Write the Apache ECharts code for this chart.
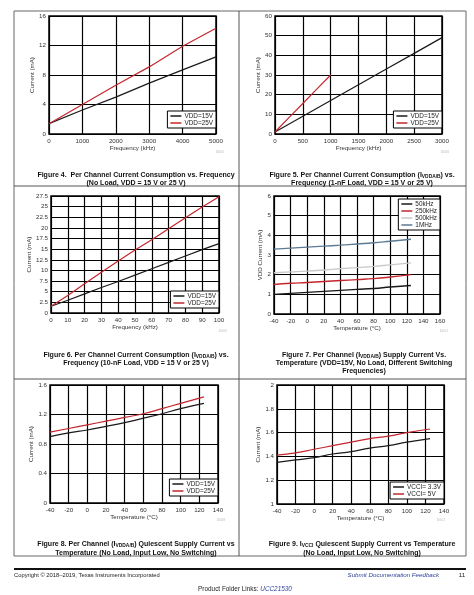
<!DOCTYPE html>
<html><head><meta charset="utf-8">
<script src="https://cdn.jsdelivr.net/npm/echarts@6/dist/echarts.min.js"></script>
<style>html,body{margin:0;padding:0;background:#fff}#c{width:474px;height:595px}</style>
</head><body><div id="c"></div>
<script>
// ---- data ----
const fig4Freq = [0, 1000, 2000, 3000, 4000, 5000];
const fig4Vdd15 = [1.4, 3.25, 5.0, 6.9, 8.7, 10.45];
const fig4Vdd25 = [1.4, 4.0, 6.6, 9.1, 11.9, 14.35];

const fig5Freq15 = [0, 500, 1000, 1500, 2000, 2500, 3000];
const fig5Vdd15 = [1, 9, 17, 25, 33, 41, 49];
const fig5Freq25 = [0, 250, 500, 750, 1000];
const fig5Vdd25 = [1, 8.3, 15.5, 22.8, 30];

const fig6Freq = [0, 10, 20, 30, 40, 50, 60, 70, 80, 90, 100];
const fig6Vdd15 = [1.6, 3.0, 4.5, 6.0, 7.4, 8.9, 10.4, 11.9, 13.4, 14.9, 16.3];
const fig6Vdd25 = [1.6, 4.1, 6.9, 9.6, 12.2, 14.8, 17.2, 19.8, 22.4, 24.9, 27.3];

const fig7Temp = [-40, -20, 0, 20, 40, 60, 80, 100, 125];
const fig7f50k = [1.0, 1.05, 1.1, 1.15, 1.2, 1.25, 1.3, 1.37, 1.45];
const fig7f250k = [1.5, 1.56, 1.6, 1.65, 1.7, 1.75, 1.8, 1.88, 2.0];
const fig7f500k = [2.1, 2.14, 2.18, 2.24, 2.3, 2.36, 2.42, 2.5, 2.6];
const fig7f1M = [3.3, 3.35, 3.4, 3.45, 3.5, 3.56, 3.62, 3.7, 3.8];

const fig8Temp = [-40, -20, 0, 20, 40, 60, 80, 100, 125];
const fig8Vdd15 = [0.9, 0.95, 0.99, 1.04, 1.09, 1.15, 1.21, 1.28, 1.35];
const fig8Vdd25 = [0.96, 1.01, 1.06, 1.11, 1.16, 1.21, 1.28, 1.35, 1.44];

const fig9Temp = [-40, -20, 0, 20, 40, 60, 80, 100, 125];
const fig9Vcci33 = [1.35, 1.37, 1.39, 1.42, 1.44, 1.47, 1.49, 1.52, 1.55];
const fig9Vcci5 = [1.41, 1.43, 1.46, 1.49, 1.52, 1.55, 1.57, 1.60, 1.63];

// ---- styling ----
const FONT = 'Liberation Sans';
const BLACK = '#1a1a1a', RED = '#c4262e', LGRAY = '#c9c9c9', BLUEG = '#5c7b94';
const zip = (xs, ys) => xs.map((x, i) => [x, ys[i]]);
const plain = v => String(v);

const grids = [
  {left: 49, top: 16, width: 167, height: 118},
  {left: 275, top: 16, width: 167, height: 118},
  {left: 51, top: 196, width: 168, height: 117},
  {left: 274, top: 196, width: 166, height: 118},
  {left: 50, top: 385, width: 168, height: 118},
  {left: 277, top: 385, width: 167, height: 119}
].map(g => Object.assign({show: true, borderColor: '#000', borderWidth: 1.5, containLabel: false}, g));

function xAx(gi, min, max, interval, name) {
  return {type: 'value', gridIndex: gi, min, max, interval, name, nameLocation: 'middle', nameGap: 11,
    nameTextStyle: {fontSize: 6.2, color: '#333', fontFamily: FONT},
    axisLine: {show: false}, axisTick: {show: false},
    axisLabel: {fontSize: 6.2, color: '#333', margin: 4, fontFamily: FONT, formatter: plain},
    splitLine: {show: true, lineStyle: {color: '#000', width: 1.2}}};
}
function yAx(gi, min, max, interval, name, gap) {
  return {type: 'value', gridIndex: gi, min, max, interval, name, nameLocation: 'middle', nameGap: gap, nameRotate: 90,
    nameTextStyle: {fontSize: 6.2, color: '#333', fontFamily: FONT},
    axisLine: {show: false}, axisTick: {show: false},
    axisLabel: {fontSize: 6.2, color: '#333', margin: 3, fontFamily: FONT, formatter: plain},
    splitLine: {show: true, lineStyle: {color: '#000', width: 1.2}}};
}
function ser(gi, name, data, color, w, smooth) {
  return {type: 'line', name, xAxisIndex: gi, yAxisIndex: gi, data, symbol: 'none', smooth: !!smooth,
    lineStyle: {color, width: w || 1.2}, itemStyle: {color}, silent: true};
}
function leg(right, top, names) {
  return {orient: 'vertical', right, top, data: names, selectedMode: false,
    backgroundColor: '#fff', borderColor: '#000', borderWidth: 1, borderRadius: 0,
    padding: [2, 3, 2, 3], itemGap: 1, itemWidth: 11, itemHeight: 1.5, icon: 'rect',
    textStyle: {fontSize: 6.4, color: '#222', fontFamily: FONT, padding: [0, 0, 0, -2]}};
}

const capRich = {
  b: {fontFamily: FONT, fontWeight: 'bold', fontSize: 7, fill: '#111', color: '#111'},
  s: {fontFamily: FONT, fontWeight: 'bold', fontSize: 4.9, fill: '#111', color: '#111', padding: [3, 0, 0, 0]}
};
function cap(x, y, text) {
  return {type: 'text', x, y, silent: true,
    style: {text, align: 'center', verticalAlign: 'middle', rich: capRich, fill: '#111',
      font: 'bold 7px "Liberation Sans"'}};
}
function tiny(x, y, text) {
  return {type: 'text', x, y, silent: true,
    style: {text, align: 'center', verticalAlign: 'middle', fill: '#bbb', font: '3.5px "Liberation Sans"'}};
}
function line(x1, y1, x2, y2, w, c) {
  return {type: 'line', silent: true, shape: {x1, y1, x2, y2}, style: {stroke: c || '#555', lineWidth: w || 1}};
}

const option = {
  animation: false,
  backgroundColor: '#fff',
  grid: grids,
  xAxis: [
    xAx(0, 0, 5000, 1000, 'Frequency (kHz)'),
    xAx(1, 0, 3000, 500, 'Frequency (kHz)'),
    xAx(2, 0, 100, 10, 'Frequency (kHz)'),
    xAx(3, -40, 160, 20, 'Temperature (°C)'),
    xAx(4, -40, 140, 20, 'Temperature (°C)'),
    xAx(5, -40, 140, 20, 'Temperature (°C)')
  ],
  yAxis: [
    yAx(0, 0, 16, 4, 'Current (mA)', 13),
    yAx(1, 0, 60, 10, 'Current (mA)', 12),
    yAx(2, 0, 27.5, 2.5, 'Current (mA)', 17),
    yAx(3, 0, 6, 1, 'VDD Current (mA)', 10),
    yAx(4, 0, 1.6, 0.4, 'Current (mA)', 13),
    yAx(5, 1, 2, 0.2, 'Current (mA)', 14)
  ],
  legend: [
    leg(258, 111, ['VDD=15V', 'VDD=25V']),
    leg(32, 111, ['VDD=15V', 'VDD=25V']),
    leg(255, 291, ['VDD=15V', 'VDD=25V']),
    leg(34, 199, ['50kHz', '250kHz', '500kHz', '1MHz']),
    leg(256, 479, ['VDD=15V', 'VDD=25V']),
    leg(30, 482, ['VCCI= 3.3V', 'VCCI= 5V'])
  ],
  series: [
    ser(0, 'VDD=15V', zip(fig4Freq, fig4Vdd15), BLACK),
    ser(0, 'VDD=25V', zip(fig4Freq, fig4Vdd25), RED),
    ser(1, 'VDD=15V', zip(fig5Freq15, fig5Vdd15), BLACK),
    ser(1, 'VDD=25V', zip(fig5Freq25, fig5Vdd25), RED),
    ser(2, 'VDD=15V', zip(fig6Freq, fig6Vdd15), BLACK),
    ser(2, 'VDD=25V', zip(fig6Freq, fig6Vdd25), RED),
    ser(3, '50kHz', zip(fig7Temp, fig7f50k), BLACK, 1.4, true),
    ser(3, '250kHz', zip(fig7Temp, fig7f250k), RED, 1.4, true),
    ser(3, '500kHz', zip(fig7Temp, fig7f500k), LGRAY, 1.4, true),
    ser(3, '1MHz', zip(fig7Temp, fig7f1M), BLUEG, 1.4, true),
    ser(4, 'VDD=15V', zip(fig8Temp, fig8Vdd15), BLACK, 1.2, true),
    ser(4, 'VDD=25V', zip(fig8Temp, fig8Vdd25), RED, 1.2, true),
    ser(5, 'VCCI= 3.3V', zip(fig9Temp, fig9Vcci33), BLACK, 1.2, true),
    ser(5, 'VCCI= 5V', zip(fig9Temp, fig9Vcci5), RED, 1.2, true)
  ],
  graphic: [
    // page frame
    {type: 'rect', silent: true, shape: {x: 14, y: 11, width: 452, height: 545}, style: {fill: 'none', stroke: '#666', lineWidth: 1}},
    line(239, 11, 239, 556),
    line(14, 186, 466, 186),
    line(14, 379, 466, 379),
    line(14, 569, 466, 569, 2, '#111'),
    // captions
    cap(136, 175, '{b|Figure 4.  Per Channel Current Consumption vs. Frequency}'),
    cap(136, 183, '{b|(No Load, VDD = 15 V or 25 V)}'),
    cap(362, 175, '{b|Figure 5. Per Channel Current Consumption (I}{s|VDDA/B}{b|) vs.}'),
    cap(362, 183, '{b|Frequency (1-nF Load, VDD = 15 V or 25 V)}'),
    cap(136, 355, '{b|Figure 6. Per Channel Current Consumption (I}{s|VDDA/B}{b|) vs.}'),
    cap(136, 363, '{b|Frequency (10-nF Load, VDD = 15 V or 25 V)}'),
    cap(364, 355, '{b|Figure 7. Per Channel (I}{s|VDDA/B}{b|) Supply Current Vs.}'),
    cap(364, 363, '{b|Temperature (VDD=15V, No Load, Different Switching}'),
    cap(364, 371, '{b|Frequencies)}'),
    cap(136, 544, '{b|Figure 8. Per Channel (I}{s|VDDA/B}{b|) Quiescent Supply Current vs}'),
    cap(136, 553, '{b|Temperature (No Load, Input Low, No Switching)}'),
    cap(362, 544, '{b|Figure 9. I}{s|VCCI}{b| Quiescent Supply Current vs Temperature}'),
    cap(362, 553, '{b|(No Load, Input Low, No Switching)}'),
    // small figure ids
    tiny(220, 152, 'D005'),
    tiny(445, 152, 'D006'),
    tiny(223, 331, 'D005'),
    tiny(444, 331, 'D001'),
    tiny(221, 520, 'D008'),
    tiny(441, 520, 'D001'),
    // footer
    {type: 'text', x: 14, y: 575, silent: true, style: {text: 'Copyright © 2018–2019, Texas Instruments Incorporated', align: 'left', verticalAlign: 'middle', fill: '#222', font: '5.8px "Liberation Sans"'}},
    {type: 'text', x: 439, y: 575, silent: true, style: {text: 'Submit Documentation Feedback', align: 'right', verticalAlign: 'middle', fill: '#2a3f9a', font: 'italic 6.2px "Liberation Sans"'}},
    {type: 'text', x: 462, y: 575, silent: true, style: {text: '11', align: 'center', verticalAlign: 'middle', fill: '#222', font: '6.2px "Liberation Sans"'}},
    {type: 'text', x: 245, y: 589, silent: true, style: {
      text: '{n|Product Folder Links: }{u|UCC21530}', align: 'center', verticalAlign: 'middle',
      rich: {n: {fontFamily: FONT, fontSize: 6.4, fill: '#222', color: '#222'}, u: {fontFamily: FONT, fontSize: 6.4, fontStyle: 'italic', fill: '#2a3f9a', color: '#2a3f9a'}}}}
  ]
};

const chart = echarts.init(document.getElementById('c'), null, {renderer: 'canvas'});
chart.setOption(option);
</script></body></html>
